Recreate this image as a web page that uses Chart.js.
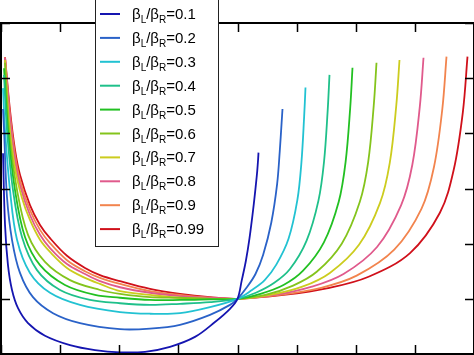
<!DOCTYPE html>
<html>
<head>
<meta charset="utf-8">
<script src="https://cdn.jsdelivr.net/npm/chart.js@4"></script>
<style>
  body { margin: 0; background: #fff; }
  canvas { display: block; }
</style>
</head>
<body>
<canvas id="curves" width="474" height="355"></canvas>
<script>
// ratio beta_L / beta_R for each curve
const ratios = ['0.1', '0.2', '0.3', '0.4', '0.5', '0.6', '0.7', '0.8', '0.9', '0.99'];

// curve points [x, y]
const curve01 = [[0.034, 3.64], [0.068, 2.34], [0.118, 1.61], [0.186, 1.16], [0.288, 0.83], [0.457, 0.56], [0.744, 0.33], [1.167, 0.16], [1.59, 0.07], [2.013, 0.03], [2.436, 0.04], [2.858, 0.13], [3.281, 0.31], [3.619, 0.58], [3.873, 0.82], [4.0, 1.0],
  [4.071, 1.33], [4.142, 1.69], [4.202, 2.09], [4.266, 2.63], [4.312, 3.08], [4.334, 3.32], [4.348, 3.52], [4.355, 3.65]];
const curve02 = [[0.034, 4.44], [0.051, 4.06], [0.101, 2.85], [0.186, 2.07], [0.321, 1.47], [0.541, 1.03], [0.88, 0.74], [1.336, 0.56], [2.013, 0.45], [2.52, 0.46], [3.027, 0.53], [3.535, 0.71], [3.873, 0.89], [4.0, 1.0],
  [4.152, 1.2], [4.304, 1.45], [4.434, 1.8], [4.571, 2.38], [4.67, 3.08], [4.715, 3.68], [4.746, 4.19], [4.761, 4.44]];
const curve03 = [[0.034, 4.82], [0.068, 4.06], [0.152, 2.97], [0.271, 2.07], [0.49, 1.47], [0.829, 1.11], [1.336, 0.89], [2.013, 0.76], [2.52, 0.73], [3.027, 0.74], [3.535, 0.85], [4.0, 1.0],
  [4.23, 1.15], [4.46, 1.34], [4.656, 1.62], [4.863, 2.09], [5.012, 2.79], [5.081, 3.47], [5.127, 4.3], [5.15, 4.83]];
const curve04 = [[0.051, 5.06], [0.101, 4.06], [0.203, 2.97], [0.355, 2.12], [0.609, 1.52], [0.998, 1.16], [1.505, 0.98], [2.013, 0.92], [2.52, 0.89], [3.027, 0.91], [3.535, 0.94], [4.0, 1.0],
  [4.311, 1.11], [4.622, 1.29], [4.887, 1.54], [5.167, 2.05], [5.369, 2.78], [5.463, 3.48], [5.525, 4.41], [5.556, 5.06]];
const curve05 = [[0.051, 5.18], [0.118, 4.06], [0.237, 2.97], [0.406, 2.12], [0.66, 1.61], [1.082, 1.25], [1.59, 1.07], [2.013, 1.02], [2.52, 0.98], [3.027, 0.98], [3.535, 0.99], [4.0, 1.0],
  [4.389, 1.09], [4.778, 1.25], [5.109, 1.51], [5.459, 2.02], [5.712, 2.76], [5.828, 3.48], [5.906, 4.46], [5.945, 5.19]];
const curve06 = [[0.068, 5.28], [0.135, 4.06], [0.271, 2.97], [0.457, 2.16], [0.744, 1.67], [1.167, 1.34], [1.674, 1.16], [2.013, 1.09], [2.52, 1.03], [3.027, 1.02], [3.535, 1.0], [4.0, 1.0],
  [4.47, 1.07], [4.94, 1.24], [5.34, 1.49], [5.763, 2.0], [6.069, 2.76], [6.21, 3.48], [6.304, 4.5], [6.351, 5.28]];
const curve07 = [[0.068, 5.33], [0.135, 4.24], [0.237, 3.37], [0.355, 2.83], [0.49, 2.43], [0.66, 2.07], [0.829, 1.85], [1.116, 1.56], [1.421, 1.38], [1.674, 1.27], [2.013, 1.14], [2.52, 1.07], [3.027, 1.02], [4.0, 1.0],
  [4.548, 1.07], [5.096, 1.22], [5.562, 1.47], [6.055, 1.98], [6.411, 2.74], [6.576, 3.47], [6.685, 4.5], [6.74, 5.33]];
const curve08 = [[0.068, 5.37], [0.152, 4.28], [0.237, 3.52], [0.321, 3.06], [0.49, 2.52], [0.66, 2.16], [0.829, 1.92], [1.116, 1.63], [1.421, 1.45], [1.674, 1.32], [2.013, 1.21], [2.52, 1.11], [3.027, 1.05], [3.535, 1.02], [4.0, 1.0],
  [4.629, 1.07], [5.258, 1.22], [5.793, 1.45], [6.36, 1.94], [6.768, 2.7], [6.957, 3.43], [7.083, 4.48], [7.146, 5.37]];
const curve09 = [[0.068, 5.38], [0.152, 4.33], [0.237, 3.61], [0.321, 3.15], [0.49, 2.61], [0.66, 2.25], [0.829, 2.01], [1.116, 1.7], [1.421, 1.5], [1.674, 1.38], [2.013, 1.27], [2.52, 1.14], [3.027, 1.07], [3.535, 1.02], [4.0, 1.0],
  [4.707, 1.07], [5.414, 1.2], [6.015, 1.42], [6.651, 1.89], [7.111, 2.63], [7.323, 3.39], [7.464, 4.44], [7.535, 5.39]];
const curve10 = [[0.068, 5.38], [0.152, 4.42], [0.237, 3.7], [0.321, 3.25], [0.49, 2.7], [0.66, 2.34], [0.829, 2.1], [1.116, 1.78], [1.421, 1.56], [1.674, 1.43], [2.013, 1.32], [2.52, 1.18], [3.027, 1.09], [3.535, 1.03], [4.0, 1.0],
  [4.778, 1.07], [5.556, 1.2], [6.217, 1.4], [6.918, 1.83], [7.423, 2.56], [7.657, 3.34], [7.812, 4.39], [7.89, 5.39]];

const curves = [curve01, curve02, curve03, curve04, curve05, curve06, curve07, curve08, curve09, curve10];
const lineColors = ['#1515b0', '#2a62c8', '#22c2d2', '#1fc08a', '#22c022', '#84c41c', '#cccc1e', '#e05a8c', '#f2844e', '#d0101a'];

// axis ranges (no tick labels in the figure)
const xMin = 0, xMax = 8, yMin = 0, yMax = 6;

const datasets = curves.map(function (pts, i) {
  return {
    label: 'βL/βR=' + ratios[i],
    data: pts.map(p => ({ x: p[0], y: p[1] })),
    borderColor: lineColors[i],
    borderWidth: 1.8,
    pointRadius: 0,
    fill: false,
    tension: 0.35
  };
});

// frame with inward ticks on all four sides, plus the boxed legend
const framePlugin = {
  id: 'frameTicks',
  afterDraw(chart) {
    const c = chart.ctx;
    const a = chart.chartArea;
    const xs = chart.scales.x, ys = chart.scales.y;
    c.save();
    c.strokeStyle = '#000';
    c.lineWidth = 2;
    c.strokeRect(a.left, a.top, a.right - a.left, a.bottom - a.top);
    c.lineWidth = 1.5;
    const len = 9;
    for (let v = xMin; v <= xMax; v++) {
      const px = Math.round(xs.getPixelForValue(v)) + 0.5;
      c.beginPath();
      c.moveTo(px, a.top); c.lineTo(px, a.top + len);
      c.moveTo(px, a.bottom); c.lineTo(px, a.bottom - len);
      c.stroke();
    }
    for (let v = yMin; v <= yMax; v++) {
      const py = Math.round(ys.getPixelForValue(v)) + 0.5;
      c.beginPath();
      c.moveTo(a.left, py); c.lineTo(a.left + len, py);
      c.moveTo(a.right, py); c.lineTo(a.right - len, py);
      c.stroke();
    }

    // legend box
    const bx = 95, by = -5, bw = 123, bh = 251;
    c.fillStyle = '#fff';
    c.fillRect(bx, by, bw, bh);
    c.strokeStyle = '#222';
    c.lineWidth = 1;
    c.strokeRect(bx + 0.5, by + 0.5, bw, bh);

    const big = '15px "Liberation Sans", Arial, sans-serif';
    const small = '10px "Liberation Sans", Arial, sans-serif';
    c.textBaseline = 'alphabetic';
    c.fillStyle = '#000';
    ratios.forEach(function (r, i) {
      const y = 14 + 23.9 * i;
      c.strokeStyle = lineColors[i];
      c.lineWidth = 2;
      c.beginPath();
      c.moveTo(100, y); c.lineTo(120, y);
      c.stroke();
      let x = 132;
      c.font = big; c.fillText('β', x, y + 5); x += c.measureText('β').width;
      c.font = small; c.fillText('L', x, y + 9); x += c.measureText('L').width;
      c.font = big; c.fillText('/β', x, y + 5); x += c.measureText('/β').width;
      c.font = small; c.fillText('R', x, y + 9); x += c.measureText('R').width;
      c.font = big; c.fillText('=' + r, x, y + 5);
    });
    c.restore();
  }
};

new Chart(document.getElementById('curves'), {
  type: 'line',
  data: { datasets: datasets },
  options: {
    responsive: false,
    animation: false,
    layout: { padding: { left: 1, right: 0, top: 23, bottom: 1 } },
    plugins: { legend: { display: false }, tooltip: { enabled: false } },
    scales: {
      x: { type: 'linear', min: xMin, max: xMax, display: false },
      y: { type: 'linear', min: yMin, max: yMax, display: false }
    }
  },
  plugins: [framePlugin]
});
</script>
</body>
</html>
